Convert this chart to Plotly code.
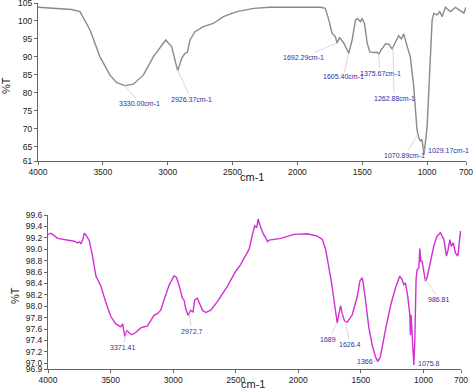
import numpy as np
import plotly.graph_objects as go

# ---- Top spectrum (gray) ----
top_wn = [4000, 3740, 3676, 3599, 3522, 3445, 3393, 3329, 3265, 3188, 3111, 3015, 2969, 2944, 2923,
          2892, 2867, 2849, 2828, 2789, 2725, 2648, 2571, 2466, 2337, 2209, 1823, 1785, 1758, 1733,
          1707, 1694, 1676, 1642, 1604, 1578, 1552, 1535, 1514, 1501, 1483, 1462, 1442, 1411, 1385,
          1372, 1355, 1321, 1296, 1270, 1245, 1219, 1198, 1180, 1155, 1129, 1103, 1078, 1064, 1052,
          1039, 1024, 1000, 979, 961, 948, 923, 902, 884, 859, 820, 781, 743, 717, 700]
top_t = [103.8, 103.2, 102.6, 97.5, 90.0, 84.9, 82.8, 82.0, 82.4, 84.9, 90.0, 94.7, 92.8, 88.7, 86.1,
         89.6, 91.0, 91.2, 94.7, 97.0, 98.4, 99.3, 101.2, 102.6, 103.5, 103.8, 103.8, 103.5, 100.3, 96.6,
         95.6, 93.8, 95.4, 93.8, 91.0, 94.7, 100.3, 100.7, 99.8, 100.7, 99.3, 93.8, 91.4, 91.2, 91.3,
         90.8, 91.9, 93.6, 93.6, 92.2, 94.0, 95.9, 95.0, 96.4, 93.1, 90.0, 81.7, 69.7, 67.4, 66.6,
         67.0, 62.7, 70.5, 87.3, 100.3, 102.1, 101.7, 102.6, 101.2, 103.8, 102.6, 103.8, 102.9, 102.2, 103.8]
top_peaks = [3330.00, 2926.37, 1692.29, 1605.40, 1375.67, 1262.88, 1070.89, 1029.17]
top_labels = ["3330.00cm-1", "2926.37cm-1", "1692.29cm-1", "1605.40cm-1", "1375.67cm-1",
              "1262.88cm-1", "1070.89cm-1", "1029.17cm-1"]
top_off = [(15, 18), (14, 30), (-34, 15), (-5, 24), (2, 20), (1, 51), (-13, 22), (25, 1)]

# ---- Bottom spectrum (magenta) ----
bot_wn = [4000, 3976, 3923, 3843, 3790, 3763, 3750, 3737, 3723, 3710, 3697, 3670, 3644, 3617, 3604,
          3577, 3537, 3498, 3458, 3418, 3404, 3396, 3386, 3370, 3352, 3333, 3299, 3259, 3232, 3206,
          3179, 3153, 3126, 3099, 3073, 3033, 2993, 2974, 2953, 2926, 2913, 2900, 2881, 2860, 2841,
          2828, 2806, 2793, 2766, 2740, 2700, 2647, 2567, 2501, 2461, 2432, 2393, 2366, 2348, 2332,
          2321, 2305, 2278, 2260, 2246, 2233, 2140, 2034, 1928, 1848, 1808, 1782, 1755, 1734, 1715,
          1702, 1689, 1675, 1662, 1649, 1630, 1609, 1569, 1529, 1508, 1490, 1482, 1463, 1437, 1410,
          1384, 1365, 1344, 1304, 1264, 1224, 1189, 1171, 1157, 1144, 1125, 1109, 1104, 1099, 1091,
          1083, 1077, 1069, 1059, 1051, 1037, 1029, 1021, 1011, 997, 984, 971, 944, 917, 891,
          864, 851, 837, 816, 805, 789, 778, 762, 744, 725, 712, 704, 696]
bot_t = [99.26, 99.28, 99.19, 99.16, 99.14, 99.11, 99.13, 99.10, 99.16, 99.28, 99.25, 99.15, 98.88, 98.53, 98.47,
         98.35, 98.06, 97.82, 97.69, 97.64, 97.69, 97.56, 97.47, 97.57, 97.53, 97.50, 97.54, 97.62, 97.64, 97.65,
         97.75, 97.84, 97.87, 97.93, 98.11, 98.37, 98.53, 98.51, 98.37, 98.14, 98.11, 97.96, 97.84, 97.93, 97.90,
         98.11, 98.14, 98.08, 97.93, 97.89, 97.93, 98.08, 98.35, 98.61, 98.73, 98.85, 99.00, 99.26, 99.41, 99.38,
         99.53, 99.41, 99.26, 99.20, 99.13, 99.16, 99.19, 99.26, 99.27, 99.23, 99.17, 99.00, 98.70, 98.41, 98.11,
         97.93, 97.71, 97.87, 98.01, 97.87, 97.74, 97.72, 97.85, 98.17, 98.44, 98.50, 98.41, 98.11, 97.64, 97.32,
         97.12, 97.03, 97.12, 97.58, 98.00, 98.32, 98.53, 98.47, 98.38, 98.41, 98.17, 97.85, 97.49, 97.85, 97.46,
         97.28, 96.97, 97.40, 98.47, 98.64, 98.67, 99.01, 98.79, 98.79, 98.61, 98.44, 98.50, 98.76, 99.06, 99.23,
         99.29, 99.23, 99.17, 98.88, 98.97, 99.17, 99.05, 99.11, 98.93, 98.88, 99.11, 99.32, 99.23]
bot_peaks = [3371.41, 2872.7, 1689, 1626.4, 1366, 1075.8, 986.81]
bot_labels = ["3371.41", "2972.7", "1689", "1626.4", "1366", "1075.8", "986.81"]
bot_off = [(-4, 16), (3, 18), (-9, 17), (5, 23), (-13, 0), (15, 2), (14, 20)]

x_ticks = [4000, 3500, 3000, 2500, 2000, 1500, 1000, 700]
top_yticks = [61, 65, 70, 75, 80, 85, 90, 95, 100, 105]
bot_yticks = [96.9, 97.0, 97.2, 97.4, 97.6, 97.8, 98.0, 98.2, 98.4, 98.6, 98.8, 99.0, 99.2, 99.4, 99.6]

W, H = 474, 389
FONT = "Liberation Sans, Arial, sans-serif"

fig = go.Figure()
fig.add_trace(go.Scatter(x=top_wn, y=top_t, mode="lines", line=dict(color="#8a8a8a", width=1.4),
                         xaxis="x", yaxis="y", showlegend=False))
fig.add_trace(go.Scatter(x=bot_wn, y=bot_t, mode="lines", line=dict(color="#d22ed2", width=1.4),
                         xaxis="x2", yaxis="y2", showlegend=False))

axis_common = dict(showgrid=False, zeroline=False, showline=True, linecolor="#666", linewidth=1,
                   ticks="outside", ticklen=3, tickcolor="#666", automargin=False,
                   ticklabeloverflow="allow",
                   tickfont=dict(family=FONT, size=8.5, color="#222"))

fig.update_layout(
    width=W, height=H, margin=dict(l=0, r=0, t=0, b=0, autoexpand=False),
    paper_bgcolor="white", plot_bgcolor="white", showlegend=False,
    xaxis=dict(domain=[38 / W, 466 / W], range=[4000, 700], tickvals=x_ticks,
               anchor="y", **axis_common),
    yaxis=dict(domain=[1 - 161 / H, 1 - 3 / H], range=[61, 105], tickvals=top_yticks,
               anchor="x", **axis_common),
    xaxis2=dict(domain=[48 / W, 461 / W], range=[4000, 700], tickvals=x_ticks,
                anchor="y2", **axis_common),
    yaxis2=dict(domain=[1 - 369 / H, 1 - 215 / H], range=[96.9, 99.6], tickvals=bot_yticks,
                tickformat=".1f", anchor="x2", **axis_common),
)

ann = []
top_wn_r = top_wn[::-1]
top_t_r = top_t[::-1]
for p, lab, (dx, dy) in zip(top_peaks, top_labels, top_off):
    yv = float(np.interp(p, top_wn_r, top_t_r))
    ann.append(dict(x=p, y=yv, xref="x", yref="y", text=lab, showarrow=True, arrowhead=0,
                    arrowwidth=0.8, arrowcolor="#cfcfcf", ax=dx, ay=dy, standoff=0,
                    xanchor="center", yanchor="middle",
                    font=dict(family=FONT, size=7, color="#2e2ea0")))
bot_wn_r = bot_wn[::-1]
bot_t_r = bot_t[::-1]
for p, lab, (dx, dy) in zip(bot_peaks, bot_labels, bot_off):
    yv = float(np.interp(p, bot_wn_r, bot_t_r))
    ann.append(dict(x=p, y=yv, xref="x2", yref="y2", text=lab, showarrow=True, arrowhead=0,
                    arrowwidth=0.8, arrowcolor="#cfcfcf", ax=dx, ay=dy, standoff=0,
                    xanchor="center", yanchor="middle",
                    font=dict(family=FONT, size=7, color="#2e2ea0")))

# axis titles
title_font = dict(family=FONT, size=11, color="#222")
ann.append(dict(x=252 / W, y=1 - 177 / H, xref="paper", yref="paper", text="cm-1", showarrow=False,
                xanchor="center", yanchor="middle", font=title_font))
ann.append(dict(x=253 / W, y=1 - 384 / H, xref="paper", yref="paper", text="cm-1", showarrow=False,
                xanchor="center", yanchor="middle", font=title_font))
ann.append(dict(x=6 / W, y=1 - 86 / H, xref="paper", yref="paper", text="%T", showarrow=False,
                xanchor="center", yanchor="middle", textangle=-90, font=title_font))
ann.append(dict(x=15 / W, y=1 - 296 / H, xref="paper", yref="paper", text="%T", showarrow=False,
                xanchor="center", yanchor="middle", textangle=-90, font=title_font))
fig.update_layout(annotations=ann)

fig.write_html("out.html", config={"displayModeBar": False},
               post_script="document.body.style.margin='0';document.body.style.overflow='hidden';")
